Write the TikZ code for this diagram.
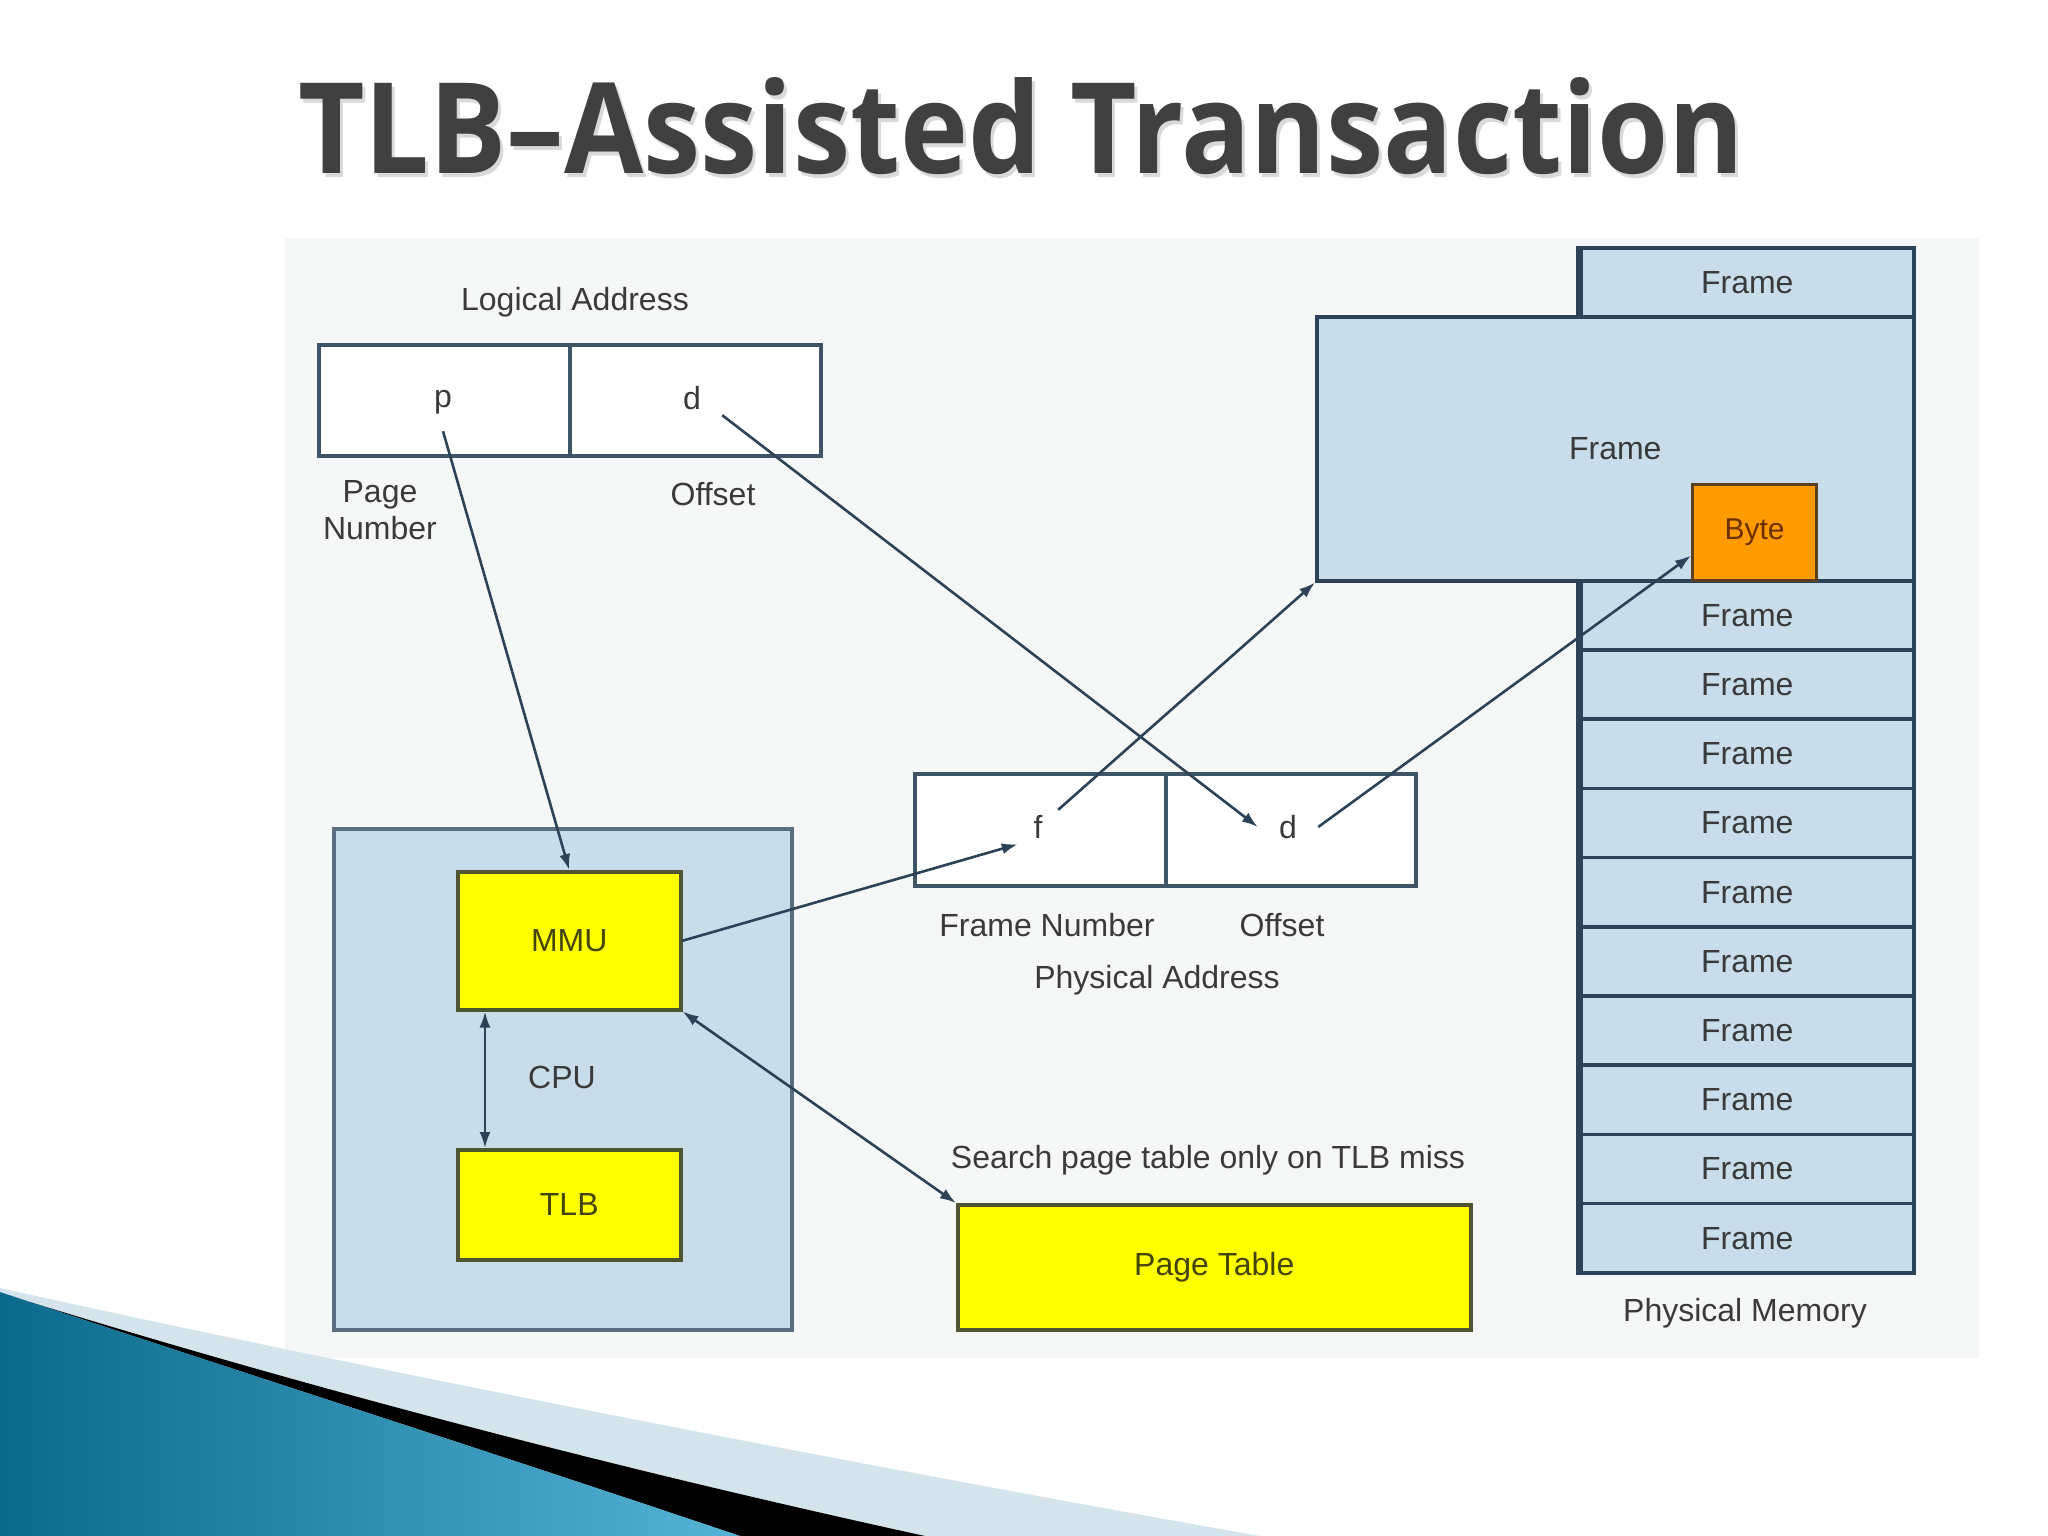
\documentclass[tikz,border=0pt]{standalone}
\usepackage{fontspec}
\setmainfont{Liberation Sans}
\newfontfamily\titlefont{Open Sans}
\usetikzlibrary{arrows.meta,calc}
\definecolor{linec}{HTML}{2B4257}
\definecolor{boxc}{HTML}{3E5568}
\definecolor{memfill}{HTML}{C8DCEA}
\definecolor{txt}{HTML}{3A3A3A}
\definecolor{yel}{HTML}{FFFF00}
\definecolor{yelb}{HTML}{4F5530}
\definecolor{ytxt}{HTML}{45450A}
\definecolor{orng}{HTML}{FF9A00}
\definecolor{orngb}{HTML}{5A4020}
\definecolor{btxt}{HTML}{6B3000}
\definecolor{panel}{HTML}{F5F6F6}
\definecolor{titlec}{HTML}{404040}
\definecolor{swlight}{HTML}{D5E3EC}
\definecolor{bluedark}{HTML}{0B6A8C}
\definecolor{bluelight}{HTML}{55B4D6}
\begin{document}
\begin{tikzpicture}[x=1pt,y=-1pt,
  lbl/.style={font=\fontsize{32}{38}\selectfont, text=txt, inner sep=0pt},
  cell/.style={draw=boxc, line width=3.5pt, fill=white, anchor=north west, inner sep=0pt},
  mem/.style={draw=linec, line width=3.5pt, fill=memfill, anchor=north west, inner sep=0pt, font=\fontsize{32}{38}\selectfont, text=txt},
  ybox/.style={draw=yelb, line width=3.5pt, fill=yel, anchor=north west, inner sep=0pt, font=\fontsize{32}{38}\selectfont, text=ytxt},
  arr/.style={draw=linec, line width=2.6pt, -{Latex[length=16pt,width=11pt]}},
  darr/.style={draw=linec, line width=2.6pt, {Latex[length=16pt,width=11pt]}-{Latex[length=16pt,width=11pt]}},
]
\useasboundingbox (0,0) rectangle (2048,1536);
\fill[white] (0,0) rectangle (2048,1536);

% title
\node[anchor=base, text=black!15, inner sep=0pt] (titleshadow) at (1024,178) {\resizebox{1446pt}{96pt}{\titlefont\bfseries\fontsize{120}{140}\selectfont TLB–Assisted Transaction}};
\node[anchor=base, text=titlec, inner sep=0pt] (title) at (1021,174) {\resizebox{1446pt}{96pt}{\titlefont\bfseries\fontsize{120}{140}\selectfont TLB–Assisted Transaction}};

% panel
\fill[panel] (285,238) rectangle (1979,1358);

% logical address
\node[lbl] (lalab) at (575,302) {Logical Address};
\node[cell, minimum width=251pt, minimum height=111pt] (lpc) at (317,343) {};
\node[cell, minimum width=251pt, minimum height=111pt] (ldc) at (568,343) {};
\node[lbl, minimum height=58pt] (p) at (443,402) {p};
\node[lbl, minimum width=60pt, minimum height=34pt] (d1) at (692,398) {d};
\node[lbl, align=center, font=\fontsize{32}{37}\selectfont] (pn) at (380,510) {Page\\Number};
\node[lbl] (off1) at (713,494) {Offset};

% CPU
\node[anchor=north west, draw=boxc!85, fill=memfill, line width=3.5pt, inner sep=0pt, minimum width=458pt, minimum height=501pt] (cpu) at (332,827) {};
\node[lbl] (cpulab) at (562,1077) {CPU};
\node[ybox, minimum width=223pt, minimum height=138pt] (mmu) at (456,870) {MMU};
\node[ybox, minimum width=223pt, minimum height=110pt] (tlb) at (456,1148) {TLB};

% physical address
\node[cell, minimum width=251pt, minimum height=112pt] (fc) at (913,772) {};
\node[cell, minimum width=250pt, minimum height=112pt] (dc) at (1164,772) {};
\node[lbl, minimum width=40pt, minimum height=34pt] (f) at (1038,827) {f};
\node[lbl, minimum width=60pt, minimum height=20pt] (d2) at (1288,827) {d};
\node[lbl] (fnlab) at (1047,925) {Frame Number};
\node[lbl] (off2) at (1282,925) {Offset};
\node[lbl] (palab) at (1157,980) {Physical Address};
\node[lbl] (search) at (1208,1160) {Search page table only on TLB miss};
\node[ybox, minimum width=513pt, minimum height=125pt] (pt) at (956,1203) {Page Table};

% physical memory
\node[mem, minimum width=333pt, minimum height=69pt] (topf) at (1579,246) {Frame};
\foreach \i in {0,...,9} {
  \node[mem, minimum width=333pt, minimum height=69.2pt] (r\i) at (1579,{579+69.2*\i}) {Frame};
}
\node[mem, minimum width=597pt, minimum height=264pt] (bigf) at (1315,315) {Frame};
\draw[linec, line width=6pt] (topf.north west) -- (topf.south west);
\draw[linec, line width=6pt] (r0.north west) -- (r9.south west);
\node[draw=orngb, line width=3pt, fill=orng, anchor=north west, inner sep=0pt, minimum width=124pt, minimum height=96pt, font=\fontsize{30}{36}\selectfont, text=btxt] (byte) at (1691,483) {Byte};
\node[lbl] (pmlab) at (1745,1313) {Physical Memory};

% connectors
\draw[arr] (p.south) -- (mmu.north);
\draw[arr] (d1.south east) -- (d2.west);
\draw[arr] (mmu.east) -- (f.south west);
\draw[arr] (f.north east) -- (bigf.south west);
\draw[arr] (d2.east) -- (byte.200);
\draw[darr] (mmu.south east) -- (pt.north west);
\draw[darr] ([xshift=29pt]mmu.south west) -- ([xshift=29pt]tlb.north west);

% swoosh decoration
\fill[swlight] (0,1288) .. controls (300,1355) and (800,1455) .. (1260,1536) -- (0,1536) -- cycle;
\fill[black] (30,1302) .. controls (300,1385) and (600,1465) .. (925,1536) -- (740,1536) .. controls (500,1455) and (250,1375) .. (30,1302) -- cycle;
\shade[left color=bluedark, right color=bluelight] (0,1292) .. controls (250,1375) and (500,1455) .. (740,1536) -- (0,1536) -- cycle;
\end{tikzpicture}
\end{document}
